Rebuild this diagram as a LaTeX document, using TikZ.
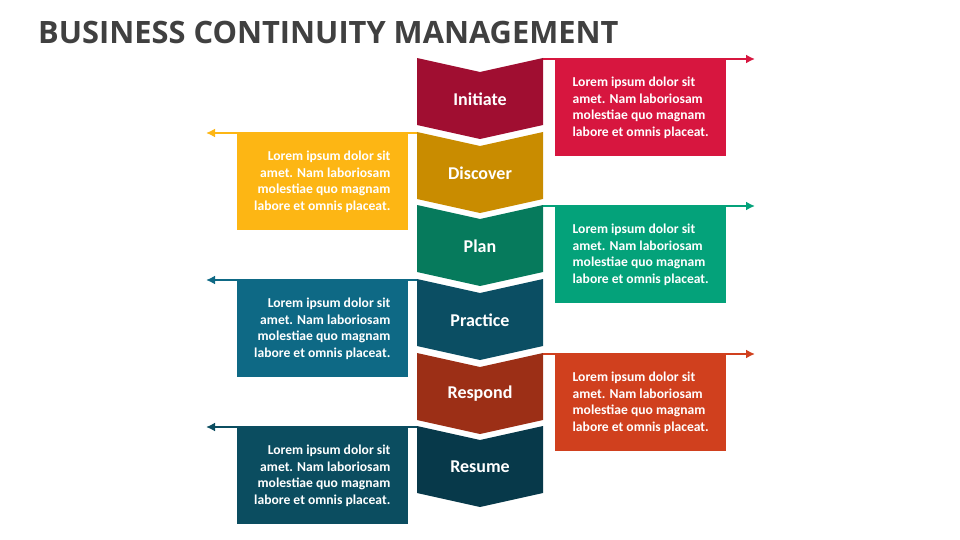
\documentclass[tikz,border=0pt]{standalone}
\usepackage{fontspec}
\setmainfont{Carlito}
\newfontfamily\titlefont{Open Sans}
\usetikzlibrary{arrows.meta}

\definecolor{titlegray}{HTML}{404040}
\definecolor{initiate}{HTML}{A00E31}
\definecolor{initiatenote}{HTML}{D7163F}
\definecolor{discover}{HTML}{C98C00}
\definecolor{discovernote}{HTML}{FDB614}
\definecolor{plan}{HTML}{067A5C}
\definecolor{plannote}{HTML}{04A27A}
\definecolor{practice}{HTML}{0B4E63}
\definecolor{practicenote}{HTML}{0E6985}
\definecolor{respond}{HTML}{9C2F16}
\definecolor{respondnote}{HTML}{D0401E}
\definecolor{resume}{HTML}{07394A}
\definecolor{resumenote}{HTML}{0B4D60}

\begin{document}
\begin{tikzpicture}[x=1pt,y=-1pt,
    steplabel/.style={text=white, font=\bfseries\fontsize{18}{21}\selectfont},
    notebox/.style={minimum width=171pt, minimum height=97pt, inner sep=0pt, text=white,
        font=\bfseries\fontsize{13.6}{16.8}\selectfont},
    leader/.style={line width=2.8pt, -{Latex[length=9pt,width=9pt]}}]
    \useasboundingbox (0,0) rectangle (960,540);
    \node[anchor=base west, inner sep=0pt, text=titlegray, font=\titlefont\bfseries\fontsize{30.8}{34}\selectfont]
        (title) at (38,44) {BUSINESS CONTINUITY MANAGEMENT};
    % chevrons with their notes, right and left in turn
    \foreach \col/\name/\yy/\xs/\xe/\xb/\anc/\al in {
        initiate/Initiate/58/543/755/555/north west/left,
        discover/Discover/132/417/206/408/north east/right,
        plan/Plan/205/543/755/555/north west/left,
        practice/Practice/279/417/206/408/north east/right,
        respond/Respond/353/543/755/555/north west/left,
        resume/Resume/426/417/206/408/north east/right}{
        \fill[\col] (417,\yy) -- (480,\yy+14) -- (543,\yy) -- (543,\yy+67)
            -- (480,\yy+81) -- (417,\yy+67) -- cycle;
        \node[steplabel] (\col) at (480,\yy+41) {\name};
        \node[notebox, fill=\col note, anchor=\anc, align=\al] (\col-note) at (\xb,\yy+1)
            {Lorem ipsum dolor sit\\amet. Nam laboriosam\\molestiae quo magnam\\labore et omnis placeat.};
        \coordinate (\col-start) at (\xs,\yy+1);
        \coordinate (\col-tip) at (\xe,\yy+1);
        \draw[leader, \col note] (\col-start) -- (\col-tip);
    }
\end{tikzpicture}
\end{document}
